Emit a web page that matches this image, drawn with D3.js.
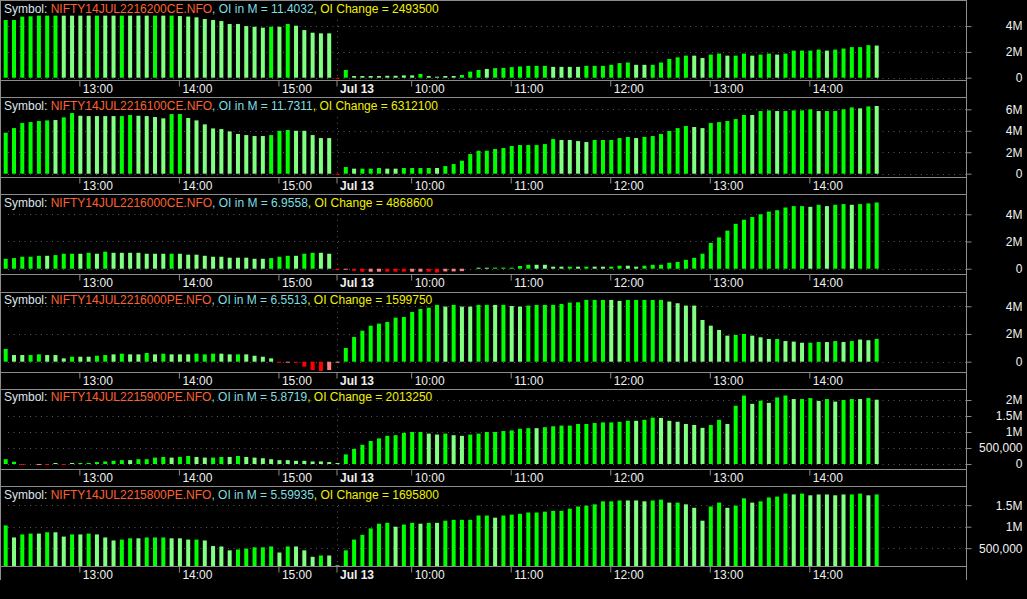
<!DOCTYPE html>
<html><head><meta charset="utf-8">
<script src="https://cdn.jsdelivr.net/npm/d3@7"></script>
<style>
html,body{margin:0;padding:0;background:#000;overflow:hidden}
svg{display:block}
text{font-family:"Liberation Sans",Arial,sans-serif;font-size:12px}
</style></head>
<body><svg id="chart" width="1027" height="599"></svg>
<script>
// ---------------- DATA ----------------
const symbols = ["NIFTY14JUL2216200CE.NFO","NIFTY14JUL2216100CE.NFO","NIFTY14JUL2216000CE.NFO","NIFTY14JUL2216000PE.NFO","NIFTY14JUL2215900PE.NFO","NIFTY14JUL2215800PE.NFO"];
const oiInM = ["11.4032","11.7311","6.9558","6.5513","5.8719","5.59935"];
const oiChange = ["2493500","6312100","4868600","1599750","2013250","1695800"];

// session days (5-minute bars)
const sessions = [{label:"Jul 12", start:"12:15", end:"15:30"},{label:"Jul 13", start:"09:15", end:"14:40"}];

// OI change since session start, in millions (one value per 5-minute bar)
const oi16200CE = [
 4.47,4.47,4.73,4.76,4.81,4.81,4.81,4.81,4.81,4.81,
 4.81,4.81,4.81,4.81,4.81,4.81,4.81,4.81,4.81,4.81,
 4.81,4.78,4.74,4.68,4.55,4.47,4.39,4.16,4.16,4.0,
 3.95,3.88,3.95,3.95,4.16,4.03,3.69,3.49,3.44,3.44,
 -0.05,0.6,0.13,0.13,0.13,0.13,0.15,0.15,0.18,0.18,
 0.29,0.13,0.08,0.13,0.13,0.21,0.47,0.6,0.68,0.74,
 0.76,0.82,0.87,0.92,0.92,0.92,0.84,0.84,0.84,0.84,
 0.92,0.92,0.92,1.0,1.13,1.18,1.0,1.0,1.0,1.18,
 1.45,1.58,1.71,1.71,1.53,1.79,1.87,1.71,1.71,1.87,
 1.71,1.79,1.87,1.79,1.87,2.1,2.1,2.1,2.18,2.1,
 2.18,2.26,2.37,2.37,2.52,2.49];
const oi16100CE = [
 3.82,4.25,4.72,4.81,4.91,4.97,5.0,5.25,5.65,5.4,
 5.37,5.37,5.37,5.37,5.37,5.47,5.4,5.37,5.28,5.16,
 5.56,5.56,5.19,4.97,4.6,4.22,4.16,3.94,3.7,3.6,
 3.51,3.51,3.6,4.0,4.07,4.0,4.0,3.6,3.32,3.32,
 -0.05,0.62,0.47,0.47,0.47,0.53,0.47,0.47,0.53,0.53,
 0.53,0.53,0.53,0.71,0.9,1.21,1.83,2.14,2.14,2.3,
 2.39,2.58,2.67,2.67,2.67,2.76,3.23,3.14,3.14,3.04,
 2.95,3.14,3.14,3.14,3.32,3.42,3.32,3.42,3.51,3.7,
 3.98,4.25,4.44,4.35,4.25,4.72,4.81,4.91,5.09,5.47,
 5.47,5.84,5.9,5.84,5.84,5.9,5.9,6.0,5.84,5.84,
 5.84,6.0,6.18,6.09,6.27,6.31];
const oi16000CE = [
 0.73,0.78,0.88,0.88,0.95,0.95,1.0,1.1,1.1,1.1,
 1.17,1.1,1.25,1.17,1.17,1.17,1.17,1.1,1.1,1.1,
 1.1,1.1,1.03,1.03,0.95,0.88,0.88,0.81,0.81,0.81,
 0.73,0.73,0.78,0.88,0.95,0.95,1.1,1.17,1.17,1.1,
 -0.1,-0.07,-0.15,-0.22,-0.22,-0.22,-0.22,-0.22,-0.22,-0.22,
 -0.22,-0.22,-0.28,-0.2,-0.2,-0.18,0,0.05,0.05,0.08,
 0.08,0.08,0.2,0.29,0.29,0.29,0.15,0.15,0.15,0.15,
 0.15,0.15,0.15,0.15,0.22,0.22,0.15,0.22,0.29,0.29,
 0.44,0.5,0.65,0.8,1.1,1.9,2.3,2.8,3.3,3.6,
 3.8,4.0,4.2,4.3,4.5,4.6,4.6,4.55,4.7,4.6,
 4.7,4.75,4.7,4.75,4.8,4.87];
const oi16000PE = [
 0.92,0.48,0.48,0.48,0.53,0.48,0.48,0.24,0.36,0.36,
 0.36,0.43,0.48,0.53,0.58,0.53,0.53,0.63,0.53,0.58,
 0.53,0.53,0.53,0.58,0.53,0.58,0.58,0.53,0.53,0.53,
 0.43,0.36,0.24,-0.05,-0.05,-0.05,-0.36,-0.6,-0.67,-0.6,
 -0.03,0.99,1.78,2.24,2.6,2.75,2.87,3.18,3.23,3.59,
 3.81,3.9,4.1,3.98,4.1,3.98,3.98,4.1,4.1,4.1,
 4.1,4.02,3.98,4.05,4.1,4.1,4.1,4.17,4.27,4.29,
 4.46,4.46,4.46,4.46,4.39,4.46,4.46,4.46,4.46,4.46,
 4.34,4.22,4.05,4.05,3.01,2.6,2.29,1.88,1.93,2.0,
 1.88,1.76,1.64,1.64,1.49,1.45,1.37,1.37,1.42,1.42,
 1.49,1.42,1.49,1.6,1.55,1.65];
const oi15900PE = [
 0.15,0.07,-0.03,0,-0.03,-0.02,0.02,-0.03,0.02,0.02,
 0.03,0.06,0.08,0.1,0.12,0.12,0.15,0.15,0.2,0.22,
 0.2,0.22,0.25,0.22,0.2,0.2,0.22,0.22,0.25,0.22,
 0.2,0.18,0.15,0.12,0.12,0.1,0.1,0.08,0.08,0.06,
 0.03,0.3,0.47,0.6,0.72,0.8,0.88,0.9,0.97,1.0,
 1.0,0.95,0.92,0.95,0.9,0.88,0.92,0.95,1.0,1.0,
 1.03,1.05,1.1,1.12,1.12,1.15,1.18,1.2,1.2,1.25,
 1.25,1.28,1.3,1.3,1.32,1.35,1.35,1.38,1.45,1.44,
 1.35,1.32,1.25,1.22,1.13,1.22,1.38,1.25,1.82,2.14,
 1.88,1.98,1.91,2.08,2.14,2.03,2.03,2.06,1.97,2.03,
 1.95,2.0,2.03,2.03,2.06,2.01];
const oi15800PE = [
 1.03,0.75,0.82,0.84,0.84,0.87,0.87,0.77,0.82,0.82,
 0.84,0.82,0.75,0.68,0.7,0.73,0.73,0.75,0.75,0.75,
 0.73,0.73,0.7,0.7,0.68,0.55,0.54,0.45,0.47,0.49,
 0.52,0.52,0.54,0.4,0.54,0.54,0.45,0.3,0.33,0.33,
 0.1,0.45,0.7,0.81,0.96,1.07,1.09,1.0,1.05,1.09,
 1.07,1.09,1.09,1.14,1.16,1.16,1.16,1.26,1.26,1.21,
 1.26,1.28,1.3,1.33,1.33,1.35,1.37,1.37,1.42,1.47,
 1.49,1.52,1.59,1.59,1.61,1.61,1.61,1.59,1.61,1.63,
 1.56,1.56,1.52,1.44,1.14,1.47,1.56,1.44,1.49,1.66,
 1.56,1.59,1.68,1.7,1.77,1.75,1.77,1.73,1.75,1.75,
 1.73,1.75,1.75,1.77,1.73,1.75];

// bar direction flag per bar: U = up-bar, D = down-bar (groups of 10)
const dir16200CE = "UUUUUUUDDD DUDDUDDDUD UDDDDDDDDD DDUDUDDDDD UUDDDDDDDD UDDDDUUUDU UUUUUUDDDD UUUUUUDDUU UUUDDUUDUU DUUDUUUUUD UUUUUD";
const dir16100CE = "UUUUUUDUUD DDDDUUDDDD UUDDDDDDDD DDUUUDDDDD UUDUUUDDUU UUDUUUUUUU UUUUUUUDDD DUUUUUDUUU UUUDDUUUUU DUUDUUUUDU UUUDUD";
const dir16000CE = "UUUUUDUUUD UDUDDDDDDD UDDDDDDDDD DDUUUDUUDD UDUUDDUUUD DUUDDDDDDU UUUUDDDDUD UDDUUDDUUU UUUUUUUUUU UUUUUUUDUD UUDUUU";
const dir16000PE = "UDDUUDDDUD DUUDUDDUDU DDDUUUDDUD DDDUDUUUUD DUUUUUUUUU UUUDUDDUUD UDDUUUUUUU UUUDDUUUUU DDDDDDDDUU DDDUDDDUUD UDUDDU";
const dir15900PE = "UUUDDUDUDU UUUUUDUUUU DUUDDUUDUD DDDDDDDDDD DUUUUUUUUU UDDUDDUUUU UUUUDUUUUU UUUUUUDUUD DDDDDUUDUU DUDUUDUUDU DUUDUD";
const dir15800PE = "UDUUDUDDUD UDDDUUDUUU DDDUDDDDUU UUUDUDDDUD DUUUUUUDUU DUDUUUUUUD UUUUUUUUUU UUUUUDDDUU DUDDDUUDUU DUUUUDUDDD DDUUDU";

// y-axis ranges (millions) and tick values per panel
const axisMin = [-0.178,-0.326,-0.419,-0.715,-0.15,0.086];
const axisMax = [6.023,7.13,5.463,5.061,2.35,1.9465];
const yTicks = [[0,2,4],[0,2,4,6],[0,2,4],[0,2,4],[0,0.5,1,1.5,2],[0.5,1,1.5]];
const yTickText = {0:"0",0.5:"500,000",1:"1M",1.5:"1.5M",2:"2M",4:"4M",6:"6M"};

// ---------------- BUILD ----------------
function sessionTimes(s){
  const toMin = t => +t.slice(0,2)*60 + +t.slice(3);
  const out=[];
  for(let m=toMin(s.start); m<=toMin(s.end); m+=5){
    out.push({day:s.label, time:String(Math.floor(m/60)).padStart(2,"0")+":"+String(m%60).padStart(2,"0")});
  }
  return out;
}
const bars = sessions.flatMap(sessionTimes);
const dayStart = sessions.map(s=>bars.findIndex(b=>b.day===s.label));
const axisTicks = bars.map((b,i)=>({i,b})).filter(d=> (d.i===dayStart[1]) || (d.b.time.endsWith(":00")));

const series = [oi16200CE,oi16100CE,oi16000CE,oi16000PE,oi15900PE,oi15800PE];
const dirs = [dir16200CE,dir16100CE,dir16000CE,dir16000PE,dir15900PE,dir15800PE].map(s=>s.replace(/\s+/g,""));

const W=1027, H=599, panelH=97.2, plotR=966, axisOff=80;
const svg = d3.select("#chart");
svg.append("rect").attr("width",W).attr("height",H).attr("fill","#000");

const x = d3.scaleLinear().domain([0, bars.length-1]).range([5.7, 876.7]);
const barW = 4;
const col = {U:"#00ff00", D:"#80ff80", nU:"#ff0000", nD:"#ff8080"};
const gridCol = "#5a5a5a", lineCol = "#8c8c8c";

series.forEach((vals,k)=>{
  const T = k*panelH;
  const bottom = (k===series.length-1) ? 580 : T+panelH;
  const g = svg.append("g");
  const y = d3.scaleLinear().domain([axisMin[k], axisMax[k]]).range([T+axisOff, T]);

  const clipId = "clip"+k;
  svg.append("clipPath").attr("id",clipId).append("rect")
    .attr("x",0).attr("y",T+1).attr("width",plotR).attr("height",axisOff-0.5);

  // horizontal dotted grid
  g.selectAll("line.hg").data(yTicks[k]).join("line").attr("class","hg")
    .attr("x1",8).attr("x2",plotR)
    .attr("y1",d=>Math.round(y(d))+0.5).attr("y2",d=>Math.round(y(d))+0.5)
    .attr("stroke",gridCol).attr("stroke-dasharray","1,4.5");
  // vertical dotted line at session start
  const xs = Math.round(x(dayStart[1])-1)+0.5;
  g.append("line").attr("x1",xs).attr("x2",xs).attr("y1",T+20).attr("y2",T+axisOff)
    .attr("stroke",gridCol).attr("stroke-dasharray","1,4.5");

  // bars
  const y0 = y(0);
  g.append("g").attr("clip-path",`url(#${clipId})`)
    .selectAll("rect").data(vals.map((v,i)=>({v,i,d:dirs[k][i]})).filter(d=>d.v!==0))
    .join("rect")
    .attr("x",d=>x(d.i)-barW/2)
    .attr("width",barW)
    .attr("y",d=> d.v>=0 ? Math.min(y(d.v), y0-1) : y0)
    .attr("height",d=> Math.max(1, Math.abs(y(d.v)-y0)))
    .attr("fill",d=> d.v>=0 ? (d.d==="U"?col.U:col.D) : (d.d==="U"?col.nU:col.nD));

  // frame lines
  g.append("line").attr("x1",0).attr("x2",plotR+0.5).attr("y1",Math.round(T)+0.5).attr("y2",Math.round(T)+0.5).attr("stroke",lineCol);
  g.append("line").attr("x1",0.5).attr("x2",0.5).attr("y1",T).attr("y2",bottom).attr("stroke",lineCol);
  g.append("line").attr("x1",plotR+0.5).attr("x2",plotR+0.5).attr("y1",T).attr("y2",bottom).attr("stroke",lineCol);

  // bottom time axis
  const ax = g.append("g").attr("transform",`translate(0,${Math.round(T+axisOff)+0.5})`)
    .call(d3.axisBottom(x).tickValues(axisTicks.map(d=>d.i))
      .tickFormat(i=> i===dayStart[1] ? sessions[1].label : bars[i].time).tickSize(6).tickSizeOuter(0));
  ax.select(".domain").remove();
  ax.selectAll(".tick line").attr("stroke",lineCol).attr("transform","translate(-1,0)");
  ax.selectAll(".tick text").attr("fill","#f0f0f0").attr("text-anchor","start")
    .attr("x",2).attr("y",12).attr("dy",0)
    .style("font-weight",i=> i===dayStart[1]?"bold":"normal");
  g.append("line").attr("x1",0).attr("x2",plotR+0.5)
    .attr("y1",Math.round(T+axisOff)+0.5).attr("y2",Math.round(T+axisOff)+0.5).attr("stroke",lineCol);

  // right value axis
  const ra = g.append("g").attr("transform",`translate(${plotR+0.5},0)`)
    .call(d3.axisRight(y).tickValues(yTicks[k]).tickFormat(d=>yTickText[d]).tickSize(5));
  ra.select(".domain").remove();
  ra.selectAll(".tick line").attr("stroke",lineCol);
  ra.selectAll(".tick text").attr("fill","#f0f0f0").attr("text-anchor","end").attr("x",56);

  // header
  const t = g.append("text").attr("x",4).attr("y",T+12.5);
  t.append("tspan").attr("fill","#dfe3ea").text("Symbol: ");
  t.append("tspan").attr("fill","#ff6030").text(symbols[k]);
  t.append("tspan").attr("fill","#7fdfe0").text(", OI in M = "+oiInM[k]);
  t.append("tspan").attr("fill","#f0f000").text(", OI Change = "+oiChange[k]);
});
</script>
</body></html>
